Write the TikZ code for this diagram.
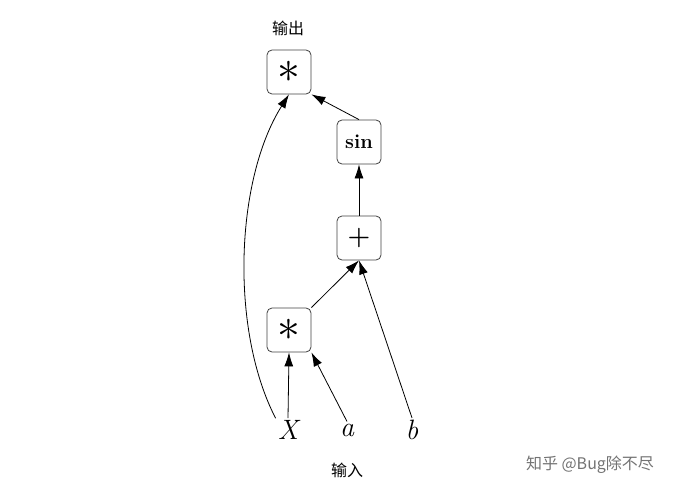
\documentclass[tikz,border=0pt]{standalone}
\usepackage{fontspec}
\newfontfamily\cjk{Noto Sans CJK SC}
\usetikzlibrary{arrows.meta}
\begin{document}
\begin{tikzpicture}[x=1pt,y=-1pt,
  op/.style={draw=black!75,line width=0.8pt,rounded corners=5pt,minimum size=44pt,inner sep=0pt,font=\bfseries\fontsize{20}{24}\selectfont},
  var/.style={font=\itshape\fontsize{28}{32}\selectfont,inner sep=2pt},
  lab/.style={font=\cjk\fontsize{16}{18}\selectfont},
  arr/.style={-{Latex[length=14pt,width=9pt]},line width=0.8pt}]
\useasboundingbox (0,0) rectangle (689,495);
\node[lab] (out) at (288,28) {输出};
\node[op] (m2) at (289,72) {\scalebox{2.2}{$\ast$}};
\node[op] (sin) at (359,142) {sin};
\node[op] (plus) at (359,238) {\scalebox{1.3}{+}};
\node[op] (m1) at (289,330) {\scalebox{2.2}{$\ast$}};
\node[var] (X) at (288,430) {X};
\node[var] (a) at (347,430) {a};
\node[var] (b) at (412,430) {b};
\node[lab] (in) at (347,470) {输入};
\node[font=\cjk\fontsize{16}{18}\selectfont,text=black!55] (wm) at (590,465) {知乎 @Bug除不尽};
\draw[arr] (X.north) -- (m1.south);
\draw[arr] (X.north west) .. controls (230,330) and (235,180) .. (m2.south);
\draw[arr] (a.north) -- (m1.south east);
\draw[arr] (m1.north east) -- (plus.south);
\draw[arr] (b.north) -- (plus.south);
\draw[arr] (plus.north) -- (sin.south);
\draw[arr] (sin.north) -- (m2.south east);
\end{tikzpicture}
\end{document}
